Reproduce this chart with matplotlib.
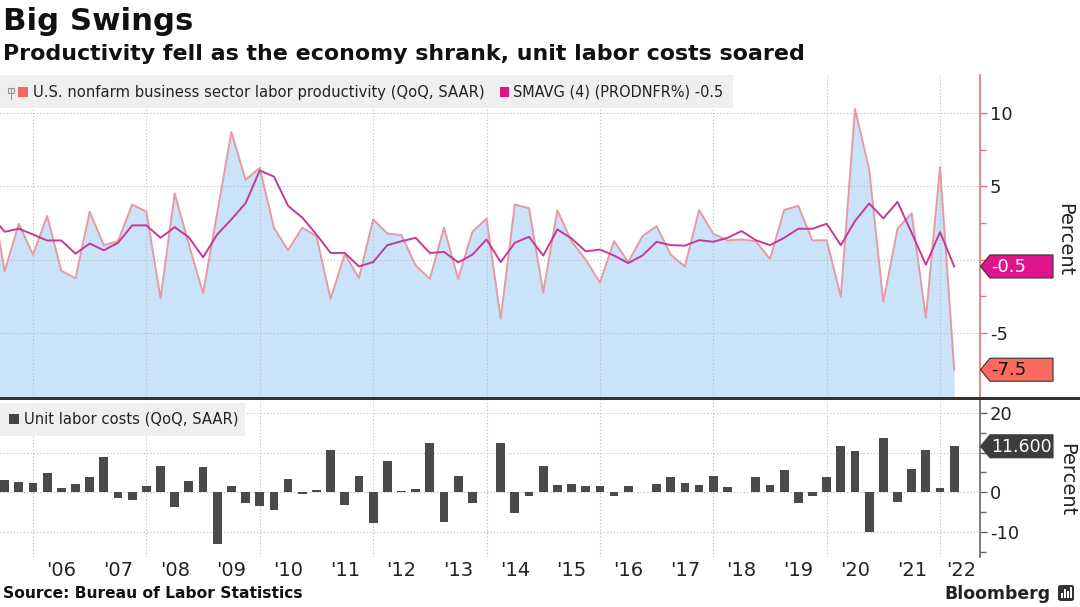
import matplotlib
matplotlib.use("Agg")
import matplotlib.pyplot as plt
from matplotlib.patches import Polygon, Rectangle, FancyBboxPatch
from matplotlib.lines import Line2D

# ---------------- data ----------------
start_year_prod = 2005          # productivity series starts 2005Q1
start_q_prod = 1
productivity = [4.9, -0.8, 2.45, 0.34,
                2.98, -0.76, -1.26, 3.26,
                0.99, 1.26, 3.76, 3.28,
                -2.64, 4.52, 1.03, -2.29,
                3.2, 8.7, 5.44, 6.26,
                2.18, 0.64, 2.18, 1.6,
                -2.68, 0.39, -1.26, 2.75,
                1.79, 1.67, -0.39, -1.31,
                2.18, -1.31, 1.9, 2.8,
                -4.01, 3.76, 3.51, -2.22,
                3.37, 1.25, 0.0, -1.56,
                1.26, -0.16, 1.6, 2.29,
                0.34, -0.46, 3.39, 1.77,
                1.31, 1.38, 1.26, 0.05,
                3.39, 3.67, 1.31, 1.33,
                -2.52, 10.28, 6.15, -2.87,
                2.11, 3.17, -3.97, 6.31,
                -7.5]
smavg4 = [3.1, 1.9, 2.11, 1.72,
          1.31, 1.31, 0.41, 1.1,
          0.64, 1.15, 2.34, 2.34,
          1.49, 2.22, 1.52, 0.16,
          1.72, 2.75, 3.85, 6.08,
          5.67, 3.67, 2.87, 1.72,
          0.46, 0.46, -0.46, -0.16,
          0.99, 1.26, 1.49, 0.46,
          0.53, -0.18, 0.34, 1.38,
          -0.16, 1.15, 1.56, 0.28,
          2.06, 1.45, 0.57, 0.69,
          0.28, -0.23, 0.28, 1.22,
          0.99, 0.96, 1.33, 1.22,
          1.49, 1.95, 1.33, 0.99,
          1.49, 2.11, 2.11, 2.45,
          0.99, 2.64, 3.83, 2.82,
          3.94, 1.83, -0.34, 1.88,
          -0.46]
start_year_ulc = 2005           # unit labor costs start 2005Q2
start_q_ulc = 2
unit_labor_costs = [3.1, 2.7, 2.3,
                    4.9, 1.0, 2.0, 3.8,
                    9.0, -1.5, -1.9, 1.6,
                    6.75, -3.6, 2.9, 6.5,
                    -13.1, 1.6, -2.8, -3.4,
                    -4.5, 3.4, -0.4, 0.6,
                    10.7, -3.1, 4.2, -7.8,
                    8.0, 0.4, 0.8, 12.4,
                    -7.4, 4.2, -2.6, 0.1,
                    12.4, -5.1, -0.8, 6.75,
                    1.9, 2.2, 1.6, 1.6,
                    -0.8, 1.6, 0.2, 2.0,
                    3.8, 2.4, 1.9, 4.0,
                    1.3, 0.05, 3.8, 1.9,
                    5.6, -2.7, -0.8, 3.8,
                    11.6, 10.4, -10.1, 13.8,
                    -2.4, 5.9, 10.7, 1.1,
                    11.6]
year_labels = ["'06", "'07", "'08", "'09", "'10", "'11", "'12", "'13", "'14",
               "'15", "'16", "'17", "'18", "'19", "'20", "'21", "'22"]
label_years = list(range(2006, 2023))
top_ticks = [-5, 0, 5, 10]
top_tick_labels = ["-5", "", "5", "10"]        # "0" sits under the -0.5 tag
bottom_ticks = [-10, 0, 10, 20]
bottom_tick_labels = ["-10", "0", "", "20"]    # "10" sits under the 11.600 tag
last_prod_label = "-7.5"
last_smavg_label = "-0.5"
last_ulc_label = "11.600"


def qtime(start_year, start_q, n):
    # quarter-end as fractional year
    out = []
    for i in range(n):
        k = (start_q - 1) + i
        y = start_year + k // 4
        q = k % 4 + 1
        out.append(y + q / 4.0)
    return out


t_prod = qtime(start_year_prod, start_q_prod, len(productivity))
t_ulc = qtime(start_year_ulc, start_q_ulc, len(unit_labor_costs))

# ---------------- figure ----------------
W, H = 1080, 607
plt.rcParams["font.family"] = "DejaVu Sans"
plt.rcParams["axes.unicode_minus"] = False
fig = plt.figure(figsize=(W / 100, H / 100), dpi=100)
fig.patch.set_facecolor("white")


def fx(x):
    return x / W


def fy(y):
    return 1 - y / H


XMIN, XMAX = 2005.418, 2022.705
grid_kw = dict(color="#b9b9b9", lw=0.8, ls=(0, (1, 2)))

# ---- top panel ----
ax1 = fig.add_axes([0, fy(397), fx(980), (397 - 75) / H])
ax1.set_xlim(XMIN, XMAX)
ax1.set_ylim(-9.36, 12.59)
ax1.fill_between(t_prod, productivity, -30, color="#cbe3f8", lw=0, zorder=1)
for gx in range(2006, 2023, 2):
    ax1.axvline(gx, zorder=2, **grid_kw)
for gy in top_ticks:
    ax1.axhline(gy, zorder=2, **grid_kw)
ax1.plot(t_prod, productivity, color="#e59aa4", lw=1.4, zorder=3)
ax1.plot(t_prod, smavg4, color="#c43a95", lw=1.4, zorder=4)
for s in ["left", "top", "bottom"]:
    ax1.spines[s].set_visible(False)
ax1.spines["right"].set_color("#e57373")
ax1.spines["right"].set_linewidth(1.2)
ax1.yaxis.tick_right()
ax1.set_yticks(top_ticks)
ax1.set_yticklabels(top_tick_labels)
ax1.set_yticks([-7.5, -2.5, 2.5, 7.5], minor=True)
ax1.tick_params(axis="y", which="both", color="#e57373", labelcolor="#222222",
                labelsize=13, length=5, width=1, pad=2)
ax1.tick_params(axis="y", which="minor", length=4)
ax1.set_xticks([])

# ---- bottom panel ----
ax2 = fig.add_axes([0, fy(557), fx(980), (557 - 400) / H])
ax2.set_xlim(XMIN, XMAX)
ax2.set_ylim(-16.3, 23.27)
for gx in range(2006, 2023, 2):
    ax2.axvline(gx, zorder=1, **grid_kw)
for gy in bottom_ticks:
    ax2.axhline(gy, zorder=1, **grid_kw)
ax2.bar(t_ulc, unit_labor_costs, width=0.155, color="#4a4a4a", zorder=3)
for s in ["left", "top", "bottom"]:
    ax2.spines[s].set_visible(False)
ax2.spines["right"].set_color("#666666")
ax2.spines["right"].set_linewidth(1.2)
ax2.yaxis.tick_right()
ax2.set_yticks(bottom_ticks)
ax2.set_yticklabels(bottom_tick_labels)
ax2.set_yticks([-15, -5, 5, 15], minor=True)
ax2.tick_params(axis="y", which="both", color="#666666", labelcolor="#222222",
                labelsize=13, length=5, width=1, pad=2)
ax2.tick_params(axis="y", which="minor", length=4)
xt = [y + 0.5 for y in label_years[:-1]] + [label_years[-1] + 0.37]
ax2.set_xticks(xt)
ax2.set_xticklabels(year_labels)
ax2.tick_params(axis="x", length=0, labelsize=14, labelcolor="#222222", pad=3)

renderer = fig.canvas.get_renderer()


def fit(txt, width_px):
    bb = txt.get_window_extent(renderer=renderer)
    txt.set_fontsize(txt.get_fontsize() * width_px / bb.width)


# ---- separator ----
fig.add_artist(Rectangle((0, fy(399.5)), 1, 3 / H, transform=fig.transFigure,
                         facecolor="#333333", edgecolor="none", zorder=5))

# ---- titles ----
t = fig.text(fx(3), fy(30), "Big Swings", fontsize=20, fontweight="bold",
             color="#111111", va="baseline", ha="left")
fit(t, 190)
t = fig.text(fx(3), fy(60), "Productivity fell as the economy shrank, unit labor costs soared",
             fontsize=15, fontweight="bold", color="#111111", va="baseline", ha="left")
fit(t, 803)

# ---- legends ----
fig.add_artist(Rectangle((0, fy(108)), fx(733), 33 / H, transform=fig.transFigure,
                         facecolor="#efefef", edgecolor="none", zorder=6))
fig.add_artist(Line2D([fx(11), fx(11)], [fy(88), fy(99)], color="#999999", lw=0.8,
                      transform=fig.transFigure, zorder=7))
fig.add_artist(Rectangle((fx(8), fy(93)), fx(6), 5 / H, transform=fig.transFigure,
                         facecolor="none", edgecolor="#999999", lw=0.8, zorder=7))
fig.add_artist(Rectangle((fx(18), fy(97)), fx(10), 10 / H, transform=fig.transFigure,
                         facecolor="#f4665f", edgecolor="none", zorder=7))
t = fig.text(fx(33), fy(92), "U.S. nonfarm business sector labor productivity (QoQ, SAAR)",
             fontsize=11, color="#222222", va="center", ha="left", zorder=7)
fit(t, 450)
fig.add_artist(Rectangle((fx(500), fy(97)), fx(9), 10 / H, transform=fig.transFigure,
                         facecolor="#e0138c", edgecolor="none", zorder=7))
t = fig.text(fx(513), fy(92), "SMAVG (4) (PRODNFR%) " + last_smavg_label,
             fontsize=11, color="#222222", va="center", ha="left", zorder=7)
fit(t, 210)

fig.add_artist(Rectangle((0, fy(436)), fx(245), 33 / H, transform=fig.transFigure,
                         facecolor="#efefef", edgecolor="none", zorder=6))
fig.add_artist(Rectangle((fx(9), fy(424)), fx(10), 10 / H, transform=fig.transFigure,
                         facecolor="#444444", edgecolor="none", zorder=7))
t = fig.text(fx(24), fy(419), "Unit labor costs (QoQ, SAAR)",
             fontsize=11, color="#222222", va="center", ha="left", zorder=7)
fit(t, 213)

# ---- percent labels ----
fig.text(fx(1065), fy(240), "Percent", rotation=270, fontsize=14,
         color="#222222", va="center", ha="center")
fig.text(fx(1067), fy(480), "Percent", rotation=270, fontsize=14,
         color="#222222", va="center", ha="center")


# ---- value tags ----
def tag(ax, val, text, fc, tc, ec="#333333"):
    yd = ax.transData.transform((XMIN, val))[1]
    y = H - yd
    h = 11.5
    pts = [(980.5, y), (990, y - h), (1053, y - h), (1053, y + h), (990, y + h)]
    pts = [(fx(px), fy(py)) for px, py in pts]
    fig.add_artist(Polygon(pts, closed=True, transform=fig.transFigure,
                           facecolor=fc, edgecolor=ec, lw=0.8, zorder=8))
    tt = fig.text(fx(991), fy(y + 0.5), text, fontsize=13, color=tc, va="center",
                  ha="left", zorder=9)
    bb = tt.get_window_extent(renderer=renderer)
    if bb.width > 60:
        tt.set_fontsize(13 * 60 / bb.width)


tag(ax1, smavg4[-1], last_smavg_label, "#e0138c", "white")
tag(ax1, productivity[-1], last_prod_label, "#fb6a5f", "#111111")
tag(ax2, unit_labor_costs[-1], last_ulc_label, "#3d3d3d", "white", ec="#3d3d3d")

# ---- footer ----
t = fig.text(fx(3), fy(594), "Source: Bureau of Labor Statistics", fontsize=11,
             fontweight="bold", color="#111111", va="center", ha="left")
fit(t, 299)
t = fig.text(fx(1051), fy(594), "Bloomberg", fontsize=14, fontweight="bold",
             color="#222222", va="center", ha="right")
fit(t, 106)
fig.add_artist(FancyBboxPatch((fx(1058), fy(601)), fx(16), 16 / H,
                              boxstyle="round,pad=0,rounding_size=0.003",
                              transform=fig.transFigure, facecolor="#333333",
                              edgecolor="none", zorder=7))
for i, hh in enumerate([5, 9, 7, 11]):
    fig.add_artist(Rectangle((fx(1061 + i * 3), fy(598)), fx(1.5), hh / H,
                             transform=fig.transFigure, facecolor="white",
                             edgecolor="none", zorder=8))

fig.savefig("out.png", dpi=100, facecolor="white")
